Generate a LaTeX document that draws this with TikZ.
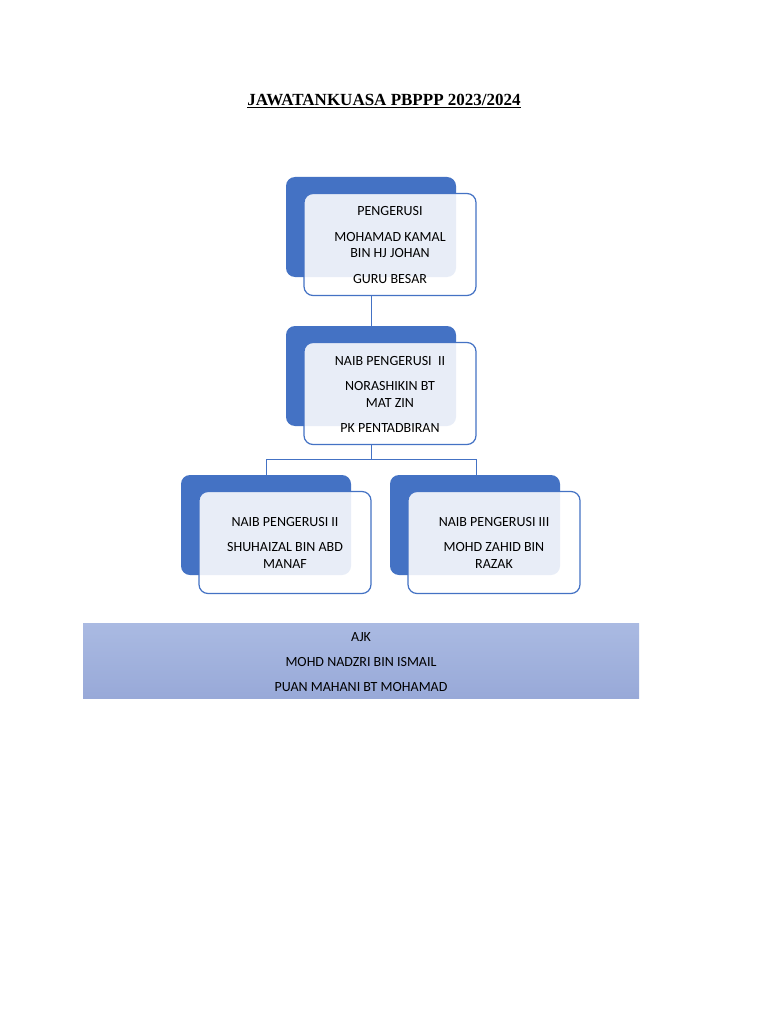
\documentclass[tikz,border=0pt]{standalone}
\usepackage{fontspec}
\setmainfont{Carlito}
\newfontfamily\titlefont{Liberation Serif}
\begin{document}
\begin{tikzpicture}[x=1pt,y=-1pt,
  back/.style={fill={rgb,255:red,68;green,114;blue,196},draw=none,rounded corners=9pt},
  front/.style={fill=white,fill opacity=0.88,draw={rgb,255:red,68;green,114;blue,196},line width=1.2pt,rounded corners=9pt},
  txt/.style={font=\fontsize{14}{14}\selectfont,inner sep=0pt,anchor=base},
  conn/.style={draw={rgb,255:red,68;green,114;blue,196},line width=1pt}]
\useasboundingbox (0,0) rectangle (768,1024);
\fill[white] (0,0) rectangle (768,1024);
\node[font=\titlefont\bfseries\fontsize{17}{17}\selectfont,anchor=base] (title) at (384,106) {\underline{JAWATANKUASA PBPPP 2023/2024}};
% connectors
\coordinate (j1) at (371,459);
\draw[conn] (371,296) coordinate (a1) -- (371,343) coordinate (a2);
\draw[conn] (371,444) coordinate (b1) -- (j1);
\draw[conn] (266,475) coordinate (c1) -- (266,459) -- (476,459) -- (476,475) coordinate (c2);
% boxes
\foreach \n/\x/\y in {b1/286/177,b2/286/326,b3/181/475,b4/390/475}{
  \path[back] (\x,\y) rectangle ++(170,100);
  \path[front] (\x+18,\y+16.5) rectangle ++(172,102);
}
\node[txt] (t1a) at (390,216) {PENGERUSI};
\node[txt] (t1b) at (390,241) {MOHAMAD KAMAL};
\node[txt] (t1c) at (390,258) {BIN HJ JOHAN};
\node[txt] (t1d) at (390,283) {GURU BESAR};
\node[txt] (t2a) at (390,365) {NAIB PENGERUSI \ II};
\node[txt] (t2b) at (390,390) {NORASHIKIN BT};
\node[txt] (t2c) at (390,407) {MAT ZIN};
\node[txt] (t2d) at (390,432) {PK PENTADBIRAN};
\node[txt] (t3a) at (285,526) {NAIB PENGERUSI II};
\node[txt] (t3b) at (285,551) {SHUHAIZAL BIN ABD};
\node[txt] (t3c) at (285,568) {MANAF};
\node[txt] (t4a) at (494,526) {NAIB PENGERUSI III};
\node[txt] (t4b) at (494,551) {MOHD ZAHID BIN};
\node[txt] (t4c) at (494,568) {RAZAK};
% AJK
\shade[top color={rgb,255:red,170;green,186;blue,226},bottom color={rgb,255:red,152;green,169;blue,216}] (83,623) rectangle (639,698);
\node[txt] (ajk) at (361,641) {AJK};
\node[txt] (ajk1) at (361,666) {MOHD NADZRI BIN ISMAIL};
\node[txt] (ajk2) at (361,691) {PUAN MAHANI BT MOHAMAD};
\end{tikzpicture}
\end{document}
